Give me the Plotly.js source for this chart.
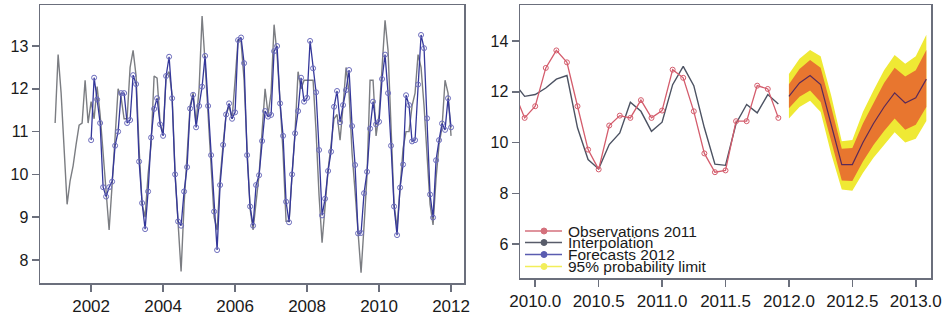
<!DOCTYPE html>
<html><head><meta charset="utf-8">
<script src="https://cdn.plot.ly/plotly-3.0.1.min.js"></script>
<style>html,body{margin:0;padding:0;background:#fff}#chart{width:943px;height:319px}</style>
</head><body><div id="chart"></div>
<script>
// ---------- Left panel data (monthly) ----------
const grayStart = 2001;
const grayValues = [
  11.2, 12.8, 11.9, 10.6, 9.3, 9.85, 10.2, 10.7, 11.15, 11.2, 12.2, 11.2,
  11.7, 11.3, 12.05, 11.4, 10.5, 9.6, 8.7, 9.75, 10.9, 12.0, 11.8, 11.3,
  11.3, 12.5, 12.9, 12.3, 10.6, 9.3, 9.0, 10.0, 10.7, 12.3, 12.25, 11.2,
  10.95, 12.3, 12.4, 11.86, 10.0, 8.8, 7.73, 9.3, 10.4, 11.6, 11.9, 11.2,
  12.0, 13.7, 12.6, 11.4, 10.2, 9.0, 8.7, 9.9, 10.7, 11.4, 11.6, 11.3,
  12.2, 13.15, 13.1, 12.2, 10.6, 9.2, 8.7, 9.4, 10.0, 11.0, 12.0, 11.4,
  11.9, 13.5, 12.8, 11.7, 10.5, 8.9, 8.9, 10.0, 11.0, 12.4, 12.0, 12.2,
  12.2, 12.2, 12.2, 11.0, 9.5, 8.4, 9.3, 10.1, 10.7, 11.3, 11.4, 10.8,
  11.6, 12.5, 11.9, 10.5, 9.6, 8.6, 7.7, 8.8, 10.0, 12.2, 12.2, 10.9,
  11.4, 12.5, 13.6, 12.9, 11.0, 9.3, 8.75, 9.7, 10.6, 11.0, 11.0, 11.6,
  11.9, 12.8, 12.5, 11.6, 10.4, 9.3, 8.82, 9.9, 10.7, 11.1, 12.2, 11.9,
  10.9
];
const blueStart = 2002;
const blueValues = [
  10.8, 12.26, 11.75, 11.2, 9.7, 9.48, 9.7, 9.83, 10.67, 11.0, 11.9, 11.9,
  11.2, 11.27, 12.32, 12.11, 10.3, 9.33, 8.72, 9.6, 10.86, 11.53, 11.78, 11.17,
  10.9, 12.3, 12.75, 11.78, 10.0, 8.9, 8.8, 9.6, 10.17, 11.54, 11.86, 11.1,
  11.6, 12.05, 12.77, 11.6, 10.45, 9.13, 8.23, 9.75, 10.69, 11.4, 11.66, 11.3,
  11.45, 13.14, 13.2, 12.6, 10.45, 9.25, 8.8, 9.75, 9.98, 10.78, 11.48, 11.35,
  11.39, 12.88, 13.0, 11.66, 10.9, 9.36, 8.88, 10.0, 10.96, 11.48, 12.26, 11.7,
  11.79, 13.12, 12.48, 11.92, 10.57, 9.04, 9.43, 10.08, 10.53, 11.58, 11.95, 11.22,
  11.62, 11.97, 12.44, 11.13, 10.22, 8.62, 8.63, 9.56, 10.06, 11.07, 11.7, 11.17,
  11.23, 12.23, 12.8, 11.9, 10.67, 9.25, 8.58, 9.69, 10.23, 11.85, 11.62, 10.77,
  10.8, 12.1, 13.26, 12.95, 11.31, 9.53, 8.99, 10.33, 10.8, 11.19, 11.04, 11.78,
  11.1
];
const leftXTicks = [2002, 2004, 2006, 2008, 2010, 2012];
const leftYTicks = [8, 9, 10, 11, 12, 13];

// ---------- Right panel data ----------
const obsStart = 2009 + 10/12;
const obsValues = [
  12.0, 10.97, 11.43, 12.94, 13.63, 13.16, 11.43, 9.72, 8.94, 10.67, 11.06, 10.97,
  11.67, 10.97, 11.26, 12.87, 12.55, 11.23, 9.57, 8.83, 8.9, 10.84, 10.84, 12.24,
  12.11, 10.97
];
const interpValues = [
  12.36, 11.82, 11.89, 12.15, 12.5, 12.64, 10.58, 9.33, 8.96, 9.92, 10.38, 11.59,
  11.23, 10.44, 10.8, 12.28, 13.0, 12.24, 10.58, 9.15, 9.1, 10.75, 11.5, 11.17,
  11.89, 11.52
];
const fcStart = 2012;
const fcMedian   = [11.82, 12.35, 12.64, 12.28, 10.70, 9.13, 9.13, 10.00, 10.75, 11.40, 11.96, 11.56, 11.76, 12.50];
const fcOrangeLo = [11.35, 11.80, 12.05, 11.60, 10.00, 8.50, 8.48, 9.25, 9.90, 10.45, 10.95, 10.50, 10.70, 11.40];
const fcOrangeHi = [12.30, 12.90, 13.25, 12.95, 11.40, 9.75, 9.78, 10.75, 11.55, 12.35, 12.95, 12.60, 12.85, 13.65];
const fcYellowLo = [10.95, 11.40, 11.65, 11.20, 9.55, 8.15, 8.10, 8.80, 9.40, 9.90, 10.40, 10.00, 10.15, 10.85];
const fcYellowHi = [12.70, 13.30, 13.65, 13.40, 11.85, 10.05, 10.10, 11.20, 12.05, 12.85, 13.45, 13.10, 13.40, 14.25];
const rightXTicks = [2010.0, 2010.5, 2011.0, 2011.5, 2012.0, 2012.5, 2013.0];
const rightXTickText = ['2010.0', '2010.5', '2011.0', '2011.5', '2012.0', '2012.5', '2013.0'];
const rightYTicks = [6, 8, 10, 12, 14];
const legendLabels = ['Observations 2011', 'Interpolation', 'Forecasts 2012', '95% probability limit'];
const legendColors = ['#d4707c', '#585c6a', '#5a5cb0', '#f2ee5a'];

// ---------- build ----------
const monthly = (start, arr) => arr.map((_, i) => start + i / 12);
const grayT = monthly(grayStart, grayValues);
const blueT = monthly(blueStart, blueValues);
const obsT = monthly(obsStart, obsValues);
const fcT = monthly(fcStart, fcMedian);
const rev = a => a.slice().reverse();

const FONT = 'Liberation Sans, Arial, sans-serif';
const AX = '#6b6f7c';

const traces = [
  {x: grayT, y: grayValues, type: 'scatter', mode: 'lines', line: {color: '#7b7d82', width: 1.4}, xaxis: 'x', yaxis: 'y', hoverinfo: 'skip'},
  {x: blueT, y: blueValues, type: 'scatter', mode: 'lines+markers', line: {color: '#34379a', width: 1.3},
   marker: {symbol: 'circle-open', size: 5, color: '#6c6cbc', line: {width: 1}}, xaxis: 'x', yaxis: 'y', hoverinfo: 'skip'},
  {x: fcT.concat(rev(fcT)), y: fcYellowHi.concat(rev(fcYellowLo)), type: 'scatter', mode: 'lines', fill: 'toself',
   fillcolor: '#efe934', line: {width: 0}, xaxis: 'x2', yaxis: 'y2', hoverinfo: 'skip'},
  {x: fcT.concat(rev(fcT)), y: fcOrangeHi.concat(rev(fcOrangeLo)), type: 'scatter', mode: 'lines', fill: 'toself',
   fillcolor: '#e8762f', line: {width: 0}, xaxis: 'x2', yaxis: 'y2', hoverinfo: 'skip'},
  {x: fcT, y: fcMedian, type: 'scatter', mode: 'lines', line: {color: '#5a2a58', width: 1.2}, xaxis: 'x2', yaxis: 'y2', hoverinfo: 'skip'},
  {x: obsT, y: interpValues, type: 'scatter', mode: 'lines', line: {color: '#4c5262', width: 1.4}, xaxis: 'x2', yaxis: 'y2', hoverinfo: 'skip'},
  {x: obsT, y: obsValues, type: 'scatter', mode: 'lines+markers', line: {color: '#d45c6c', width: 1.3},
   marker: {symbol: 'circle-open', size: 5, color: '#d45c6c', line: {width: 1}}, xaxis: 'x2', yaxis: 'y2', hoverinfo: 'skip'}
];

const px = v => v / 943, py = v => 1 - v / 319;
const axisCommon = {showline: true, linecolor: AX, linewidth: 1.5, mirror: true, ticks: 'outside', ticklen: 7,
  tickwidth: 1.5, tickcolor: AX, showgrid: false, zeroline: false, tickfont: {family: FONT, size: 17, color: '#1a1a1a'}};

const shapes = [], annotations = [];
const rowsY = [231, 242.5, 254.5, 266.5];
legendLabels.forEach((lab, i) => {
  const y = rowsY[i];
  shapes.push({type: 'line', xref: 'paper', yref: 'paper', x0: px(525), x1: px(562), y0: py(y), y1: py(y),
    line: {color: legendColors[i], width: 1.5}});
  shapes.push({type: 'circle', xref: 'paper', yref: 'paper', x0: px(541), x1: px(547), y0: py(y + 3), y1: py(y - 3),
    fillcolor: legendColors[i], line: {color: legendColors[i], width: 1}});
  annotations.push({xref: 'paper', yref: 'paper', x: px(566), y: py(y), xanchor: 'left', yanchor: 'middle',
    text: lab, showarrow: false, font: {family: FONT, size: 15.5, color: '#1a1a1a'}});
});

const layout = {
  width: 943, height: 319, margin: {l: 0, r: 0, t: 0, b: 0}, paper_bgcolor: '#fff', plot_bgcolor: '#fff',
  showlegend: false,
  xaxis: Object.assign({}, axisCommon, {domain: [px(40), px(464)], range: [2000.58, 2012.36], anchor: 'y',
    tickvals: leftXTicks, ticktext: leftXTicks.map(String)}),
  yaxis: Object.assign({}, axisCommon, {domain: [py(283), py(5)], range: [7.46, 13.96], anchor: 'x',
    tickvals: leftYTicks, ticktext: leftYTicks.map(String), tickfont: {family: FONT, size: 16, color: '#1a1a1a'}}),
  xaxis2: Object.assign({}, axisCommon, {domain: [px(520), px(931)], range: [2009.88, 2013.12], anchor: 'y2',
    tickvals: rightXTicks, ticktext: rightXTickText}),
  yaxis2: Object.assign({}, axisCommon, {domain: [py(278), py(5)], range: [4.66, 15.42], anchor: 'x2',
    tickvals: rightYTicks, ticktext: rightYTicks.map(String), tickfont: {family: FONT, size: 16, color: '#1a1a1a'}}),
  shapes: shapes, annotations: annotations
};

Plotly.newPlot('chart', traces, layout, {staticPlot: true, displayModeBar: false});
</script></body></html>
